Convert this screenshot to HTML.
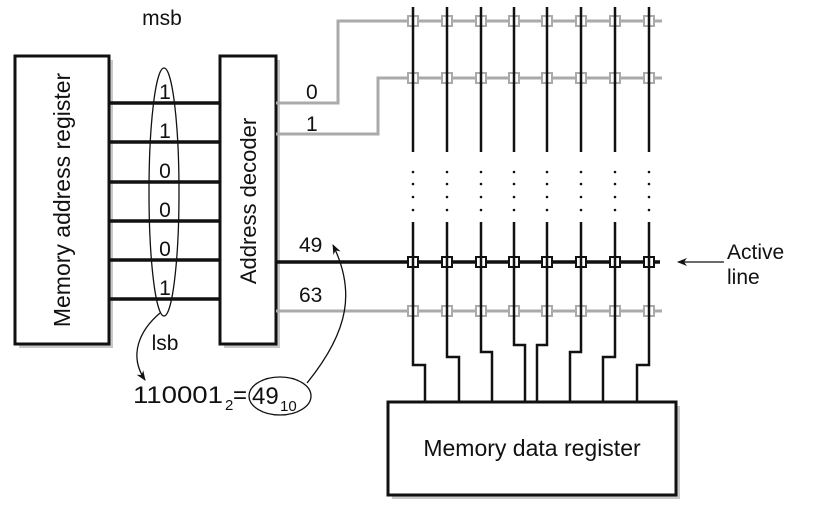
<!DOCTYPE html>
<html><head><meta charset="utf-8"><style>
html,body{margin:0;padding:0;background:#fff}
svg{display:block}
text{font-family:"Liberation Sans","DejaVu Sans",sans-serif;fill:#111}
</style></head><body>
<svg width="836" height="518" viewBox="0 0 836 518" xmlns="http://www.w3.org/2000/svg">
<defs>
<marker id="ah" markerWidth="10" markerHeight="8" refX="9" refY="4" orient="auto" markerUnits="userSpaceOnUse">
<path d="M0,0 L10,4 L0,8 L3,4 Z" fill="#111"/></marker>
</defs>
<rect x="19" y="60" width="94" height="288" fill="#c8c8c8"/>
<rect x="224" y="60" width="56" height="288" fill="#c8c8c8"/>
<rect x="392" y="406" width="288" height="93" fill="#c8c8c8"/>
<rect x="15" y="56" width="94" height="288" fill="#fff" stroke="#111" stroke-width="3"/>
<text transform="translate(70,200) rotate(-90)" text-anchor="middle" font-size="23">Memory address register</text>
<rect x="220" y="56" width="56" height="288" fill="#fff" stroke="#111" stroke-width="3"/>
<text transform="translate(256,201) rotate(-90)" text-anchor="middle" font-size="22">Address decoder</text>
<g stroke="#111" stroke-width="3.5">
<line x1="109" y1="103" x2="220" y2="103"/>
<line x1="109" y1="142" x2="220" y2="142"/>
<line x1="109" y1="182" x2="220" y2="182"/>
<line x1="109" y1="221" x2="220" y2="221"/>
<line x1="109" y1="260" x2="220" y2="260"/>
<line x1="109" y1="299" x2="220" y2="299"/>
</g>
<ellipse cx="164" cy="192" rx="15" ry="124" fill="none" stroke="#111" stroke-width="1.3"/>
<g font-size="21" text-anchor="middle">
<text x="165" y="99">1</text><text x="165" y="138">1</text><text x="165" y="178">0</text>
<text x="165" y="217">0</text><text x="165" y="256">0</text><text x="165" y="295">1</text>
<text x="162" y="25">msb</text><text x="165" y="350">lsb</text>
</g>
<g stroke="#aaa" stroke-width="3" fill="none">
<path d="M276,103H338V21H662"/>
<path d="M276,134H378V78H662"/>
<path d="M276,311H662"/>
</g>
<path d="M276,262H660" stroke="#111" stroke-width="3.5"/>
<g fill="#fff" stroke-width="2">
<g stroke="#aaa">
<g id="cg"><rect x="408" y="16" width="10" height="10"/><rect x="442" y="16" width="10" height="10"/><rect x="476" y="16" width="10" height="10"/><rect x="509" y="16" width="10" height="10"/><rect x="542" y="16" width="10" height="10"/><rect x="576" y="16" width="10" height="10"/><rect x="610" y="16" width="10" height="10"/><rect x="644" y="16" width="10" height="10"/></g>
<use href="#cg" y="57"/><use href="#cg" y="290"/>
</g>
<g stroke="#111"><use href="#cg" y="241"/></g>
</g>
<g stroke="#111" stroke-width="2.5" fill="none">
<path d="M413,7V152M413,222V365H425V402"/>
<path d="M447,7V152M447,222V357H459V402"/>
<path d="M481,7V152M481,222V352H492V402"/>
<path d="M514,7V152M514,222V345H525V402"/>
<path d="M547,7V152M547,222V345H537V402"/>
<path d="M581,7V152M581,222V352H570V402"/>
<path d="M615,7V152M615,222V357H603V402"/>
<path d="M649,7V152M649,222V365H637V402"/>
</g>
<g fill="#111">
<g id="dots"><circle cx="413" cy="172" r="1.3"/><circle cx="413" cy="184" r="1.3"/><circle cx="413" cy="197" r="1.3"/><circle cx="413" cy="210" r="1.3"/></g>
<use href="#dots" x="34"/><use href="#dots" x="68"/><use href="#dots" x="101"/><use href="#dots" x="134"/><use href="#dots" x="168"/><use href="#dots" x="202"/><use href="#dots" x="236"/>
</g>
<g font-size="21">
<text x="306" y="99">0</text><text x="306" y="131">1</text>
<text x="299" y="252">49</text><text x="299" y="302">63</text>
<text x="727" y="259">Active</text><text x="727" y="284">line</text>
</g>
<line x1="724" y1="262" x2="678" y2="262" stroke="#111" stroke-width="1.3" marker-end="url(#ah)"/>
<rect x="388" y="402" width="288" height="93" fill="#fff" stroke="#111" stroke-width="3"/>
<text x="532" y="456" text-anchor="middle" font-size="23">Memory data register</text>
<text x="133" y="403" font-size="24" textLength="90" lengthAdjust="spacingAndGlyphs">110001</text>
<text x="225" y="410" font-size="15">2</text>
<text x="233" y="403" font-size="24">=</text>
<ellipse cx="280" cy="396" rx="31" ry="19" fill="none" stroke="#111" stroke-width="1.3"/>
<text x="252" y="404" font-size="24">49</text>
<text x="280" y="411" font-size="15">10</text>
<path d="M160,313 C140,330 128,355 145,380" fill="none" stroke="#111" stroke-width="1.3" marker-end="url(#ah)"/>
<path d="M307,383 C350,330 355,290 333,245" fill="none" stroke="#111" stroke-width="1.3" marker-end="url(#ah)"/>
</svg>
</body></html>
